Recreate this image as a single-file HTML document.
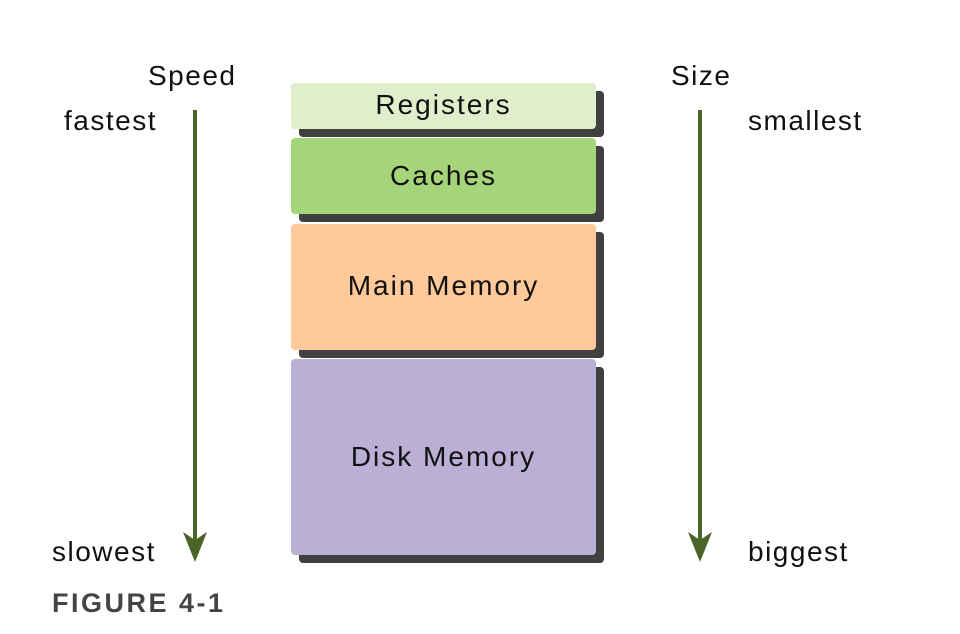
<!DOCTYPE html>
<html><head><style>
body{margin:0;width:960px;height:634px;background:#fff;position:relative;font-family:"Liberation Sans",sans-serif;overflow:hidden}
.t{position:absolute;font-size:28px;color:#111;line-height:1;white-space:nowrap;letter-spacing:1.5px}
.b{position:absolute;border-radius:4px}
.s{position:absolute;background:#404040;border-radius:4px}
.l{position:absolute;left:291px;width:305px;text-align:center;font-size:28px;color:#111;line-height:1;letter-spacing:2px}
</style></head><body>
<div class="t" style="left:148px;top:62px">Speed</div>
<div class="t" style="left:64px;top:107px">fastest</div>
<div class="t" style="left:52px;top:538px">slowest</div>
<div class="t" style="left:671px;top:62px">Size</div>
<div class="t" style="left:748px;top:107px">smallest</div>
<div class="t" style="left:748px;top:538px">biggest</div>
<div class="t" style="left:52px;top:590px;font-weight:bold;color:#444;font-size:27px;letter-spacing:2.5px">FIGURE 4-1</div>

<svg width="960" height="634" style="position:absolute;left:0;top:0">
<line x1="195" y1="110" x2="195" y2="540" stroke="#4b6428" stroke-width="4"/>
<polygon points="183,532 195,540 207,532 195,562" fill="#4b6428"/>
<line x1="700" y1="110" x2="700" y2="540" stroke="#4b6428" stroke-width="4"/>
<polygon points="688,532 700,540 712,532 700,562" fill="#4b6428"/>
</svg>

<div class="s" style="left:299px;top:91px;width:305px;height:46px"></div>
<div class="b" style="left:291px;top:83px;width:305px;height:46px;background:#e0eecb"></div>
<div class="s" style="left:299px;top:146px;width:305px;height:76px"></div>
<div class="b" style="left:291px;top:138px;width:305px;height:76px;background:#a6d47a"></div>
<div class="s" style="left:299px;top:232px;width:305px;height:126px"></div>
<div class="b" style="left:291px;top:224px;width:305px;height:126px;background:#ffc999"></div>
<div class="s" style="left:299px;top:367px;width:305px;height:196px"></div>
<div class="b" style="left:291px;top:359px;width:305px;height:196px;background:#bab0d5"></div>

<div class="l" style="top:91px">Registers</div>
<div class="l" style="top:162px">Caches</div>
<div class="l" style="top:272px">Main Memory</div>
<div class="l" style="top:443px">Disk Memory</div>
</body></html>
